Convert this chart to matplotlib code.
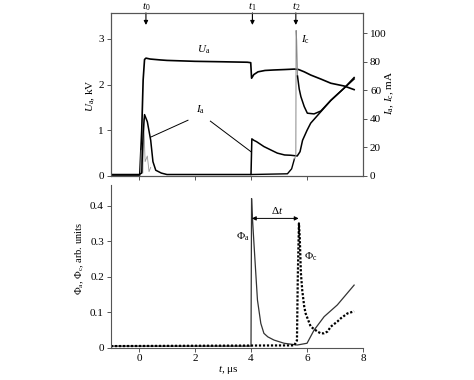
import matplotlib
matplotlib.use("Agg")
import matplotlib.pyplot as plt

plt.rcParams['font.family'] = ['Liberation Serif', 'DejaVu Serif']
plt.rcParams['mathtext.fontset'] = 'custom'
plt.rcParams['mathtext.rm'] = 'Liberation Serif'
plt.rcParams['mathtext.it'] = 'Liberation Serif:italic'
plt.rcParams['font.size'] = 8

# ---------------- data ----------------
# Top panel: anode voltage U_a (kV)
t_U = [-1.0, -0.5, 0.0, 0.03, 0.1, 0.15, 0.2, 0.25, 0.4, 0.77, 1.0, 2.0, 3.0, 3.87, 3.99,
       4.02, 4.1, 4.25, 4.5, 4.8, 5.2, 5.55, 5.7, 5.9, 6.13, 6.5, 6.85, 7.32, 7.68]
U_a = [0.02, 0.02, 0.02, 0.02, 1.0, 2.1, 2.55, 2.58, 2.56, 2.54, 2.53, 2.51, 2.50, 2.49, 2.48,
       2.14, 2.22, 2.28, 2.31, 2.32, 2.33, 2.34, 2.33, 2.28, 2.21, 2.12, 2.03, 1.97, 1.89]

# Anode current I_a (mA)
t_Ia = [-1.0, 0.0, 0.1, 0.15, 0.2, 0.3, 0.42, 0.5, 0.6, 0.8, 1.0, 2.0, 3.0, 4.0,
        4.03, 4.1, 4.2, 4.46, 4.73, 4.94, 5.2, 5.42, 5.65, 5.75, 5.84, 6.0, 6.13, 6.49,
        6.85, 7.32, 7.68]
I_a = [1, 1, 2, 30, 43, 38, 25, 10, 4, 2, 1, 1, 1, 1,
       26, 25, 24, 20.6, 18, 16, 14.7, 14.5, 14, 17, 25, 32, 37, 45,
       53, 61.5, 69]

# Secondary gray spikes in I_a near t0 (mA)
t_Ia_spike = [0.05, 0.08, 0.11, 0.14, 0.17, 0.22, 0.3, 0.36, 0.42]
I_a_spike = [1, 18, 4, 2, 40, 10, 14, 3, 6]

# Cathode current I_c (mA)
t_Ic = [4.0, 5.3, 5.45, 5.55, 5.6, 5.61, 5.63, 5.66, 5.72, 5.78, 5.9, 6.01, 6.25, 6.49,
        6.85, 7.32, 7.68]
I_c = [1, 1.5, 5, 12, 14, 102, 95, 70, 61, 55.6, 48.6, 44, 43.5, 45.5,
       53, 61.5, 68]

# Bottom panel: light fluxes (arb. units)
t_Pa = [-1.0, 4.0, 4.02, 4.04, 4.1, 4.17, 4.23, 4.35, 4.46, 4.6, 4.82, 5.18, 5.65,
        6.0, 6.25, 6.61, 7.08, 7.68]
Phi_a = [0.004, 0.004, 0.42, 0.38, 0.30, 0.21, 0.134, 0.068, 0.04, 0.03, 0.021, 0.012, 0.007,
         0.012, 0.049, 0.087, 0.12, 0.176]

t_Pc = [-1.0, 5.55, 5.6, 5.64, 5.67, 5.71, 5.74, 5.78, 5.83, 5.9, 5.95, 6.13, 6.37, 6.49,
        6.6, 6.73, 6.85, 7.08, 7.2, 7.44, 7.68]
Phi_c = [0.004, 0.006, 0.015, 0.02, 0.2, 0.35, 0.31, 0.21, 0.16, 0.115, 0.096, 0.059, 0.045,
         0.040, 0.040, 0.045, 0.059, 0.073, 0.082, 0.096, 0.102]

x_ticks = [0, 2, 4, 6, 8]
U_ticks = [0, 1, 2, 3]
I_ticks = [0, 20, 40, 60, 80, 100]
P_ticks = [0, 0.1, 0.2, 0.3, 0.4]
t_marks = [0.25, 4.05, 5.6]
t_mark_labels = ['$t_0$', '$t_1$', '$t_2$']

# ---------------- figure ----------------
fig = plt.figure(figsize=(4.74, 3.80), dpi=100)
spine_c = '#555555'

ax1 = fig.add_axes([0.234, 0.537, 0.532, 0.429])
ax2 = ax1.twinx()
ax3 = fig.add_axes([0.234, 0.0855, 0.532, 0.4275])

for ax in (ax1, ax2, ax3):
    for s in ax.spines.values():
        s.set_color(spine_c)
        s.set_linewidth(0.8)
    ax.tick_params(direction='out', length=3, width=0.7, color=spine_c, pad=2, labelsize=8)

# top panel
ax1.set_xlim(-1, 8)
ax1.set_ylim(0, 3.57)
ax2.set_ylim(0, 114.3)
ax1.set_xticks([0, 2, 4, 6])
ax1.tick_params(axis='x', labelbottom=False)
ax1.set_yticks(U_ticks)
ax2.set_yticks(I_ticks)

ax1.plot(t_U, U_a, color='black', lw=1.2)
ax2.plot(t_Ia_spike, I_a_spike, color='#999999', lw=0.6)
ax2.plot(t_Ia, I_a, color='black', lw=1.1)
ax2.plot(t_Ic[:4], I_c[:4], color='black', lw=1.0)
ax2.plot(t_Ic[3:8], I_c[3:8], color='#888888', lw=0.7)
ax2.plot(t_Ic[7:], I_c[7:], color='black', lw=1.1)

for tm, lab in zip(t_marks, t_mark_labels):
    ax1.annotate('', xy=(tm, 0.926), xycoords=('data', 'axes fraction'),
                 xytext=(tm, 1.0), textcoords=('data', 'axes fraction'),
                 arrowprops=dict(arrowstyle='-|>', color='black', lw=0.8,
                                 mutation_scale=6, shrinkA=0, shrinkB=0))
    ax1.text(tm, 1.04, lab, transform=ax1.get_xaxis_transform(), ha='center', va='center',
             fontsize=8)

ax1.text(2.3, 2.76, r'$U_{\rm a}$', ha='center', va='center', fontsize=8)
ax1.text(2.2, 1.44, r'$I_{\rm a}$', ha='center', va='center', fontsize=8)
ax1.plot([1.75, 0.42], [1.22, 0.85], color='black', lw=0.7)
ax1.plot([2.55, 4.0], [1.2, 0.53], color='black', lw=0.7)
ax1.text(5.95, 2.98, r'$I_{\rm c}$', ha='center', va='center', fontsize=8)

ax1.set_ylabel(r'$U_{\rm a}$, kV', fontsize=8)
ax1.yaxis.set_label_coords(-0.055, 0.49)
ax2.set_ylabel(r'$I_{\rm a}$, $I_{\rm c}$, mA', fontsize=8)
ax2.yaxis.set_label_coords(1.08, 0.51)

# bottom panel
ax3.set_xlim(-1, 8)
ax3.set_ylim(0, 0.458)
ax3.set_xticks(x_ticks)
ax3.set_yticks(P_ticks)
ax3.set_yticklabels(['0', '0.1', '0.2', '0.3', '0.4'])
ax3.spines['top'].set_visible(False)
ax3.spines['right'].set_visible(False)

ax3.plot(t_Pa, Phi_a, color='#333333', lw=0.9)
ax3.plot(t_Pc, Phi_c, color='black', lw=1.6, linestyle=(0, (1, 0.8)))

ax3.annotate('', xy=(4.03, 0.364), xytext=(5.7, 0.364),
             arrowprops=dict(arrowstyle='<|-|>', color='black', lw=0.7,
                             mutation_scale=6, shrinkA=0, shrinkB=0))
ax3.text(4.94, 0.385, r'$\Delta t$', ha='center', va='center', fontsize=8)
ax3.text(3.69, 0.313, r'$\Phi_{\rm a}$', ha='center', va='center', fontsize=8)
ax3.text(6.13, 0.256, r'$\Phi_{\rm c}$', ha='center', va='center', fontsize=8)

ax3.set_ylabel(r'$\Phi_{\rm a}$, $\Phi_{\rm c}$, arb. units', fontsize=7.5)
ax3.yaxis.set_label_coords(-0.1, 0.55)
ax3.set_xlabel(r'$t$, μs', fontsize=8)
ax3.xaxis.set_label_coords(0.464, -0.095)

fig.savefig('out.png', dpi=100)
